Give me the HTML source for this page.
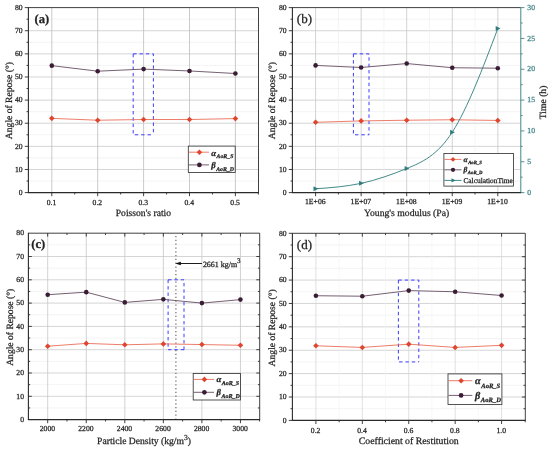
<!DOCTYPE html>
<html lang="en"><head><meta charset="utf-8"><title>Angle of Repose sensitivity</title>
<style>html,body{margin:0;padding:0;background:#fff}svg{display:block;filter:blur(0.35px)}</style></head>
<body>
<svg width="550" height="449" viewBox="0 0 550 449" text-rendering="geometricPrecision" font-family="'Liberation Serif', serif">
<style>text{stroke:#2a2a2a;stroke-width:0.26px;paint-order:stroke}</style>
<rect width="550" height="449" fill="#fff"/>
<line x1="28.4" y1="181.04" x2="258.5" y2="181.04" stroke="#ececec" stroke-width="0.6" />
<line x1="28.4" y1="157.91" x2="258.5" y2="157.91" stroke="#ececec" stroke-width="0.6" />
<line x1="28.4" y1="134.79" x2="258.5" y2="134.79" stroke="#ececec" stroke-width="0.6" />
<line x1="28.4" y1="111.66" x2="258.5" y2="111.66" stroke="#ececec" stroke-width="0.6" />
<line x1="28.4" y1="88.54" x2="258.5" y2="88.54" stroke="#ececec" stroke-width="0.6" />
<line x1="28.4" y1="65.41" x2="258.5" y2="65.41" stroke="#ececec" stroke-width="0.6" />
<line x1="28.4" y1="42.29" x2="258.5" y2="42.29" stroke="#ececec" stroke-width="0.6" />
<line x1="28.4" y1="19.16" x2="258.5" y2="19.16" stroke="#ececec" stroke-width="0.6" />
<line x1="28.4" y1="169.47" x2="258.5" y2="169.47" stroke="#cdcdcd" stroke-width="0.85" />
<line x1="28.4" y1="146.35" x2="258.5" y2="146.35" stroke="#cdcdcd" stroke-width="0.85" />
<line x1="28.4" y1="123.22" x2="258.5" y2="123.22" stroke="#cdcdcd" stroke-width="0.85" />
<line x1="28.4" y1="100.1" x2="258.5" y2="100.1" stroke="#cdcdcd" stroke-width="0.85" />
<line x1="28.4" y1="76.97" x2="258.5" y2="76.97" stroke="#cdcdcd" stroke-width="0.85" />
<line x1="28.4" y1="53.85" x2="258.5" y2="53.85" stroke="#cdcdcd" stroke-width="0.85" />
<line x1="28.4" y1="30.72" x2="258.5" y2="30.72" stroke="#cdcdcd" stroke-width="0.85" />
<line x1="51.8" y1="7.6" x2="51.8" y2="192.6" stroke="#bcbcbc" stroke-width="0.8" />
<line x1="97.7" y1="7.6" x2="97.7" y2="192.6" stroke="#bcbcbc" stroke-width="0.8" />
<line x1="143.6" y1="7.6" x2="143.6" y2="192.6" stroke="#bcbcbc" stroke-width="0.8" />
<line x1="189.5" y1="7.6" x2="189.5" y2="192.6" stroke="#bcbcbc" stroke-width="0.8" />
<line x1="235.4" y1="7.6" x2="235.4" y2="192.6" stroke="#bcbcbc" stroke-width="0.8" />
<path d="M133.2 53.85H153.4V134.79M133.2 53.85V134.79H153.4" fill="none" stroke="#3c3cff" stroke-width="1" stroke-dasharray="3.4 2.95"/>
<polyline points="51.8,65.64 97.7,71.19 143.6,69.11 189.5,70.96 235.4,73.51" fill="none" stroke="#5c4357" stroke-width="0.85"/>
<circle cx="51.8" cy="65.64" r="2.3" fill="#3a1c36"/>
<circle cx="97.7" cy="71.19" r="2.3" fill="#3a1c36"/>
<circle cx="143.6" cy="69.11" r="2.3" fill="#3a1c36"/>
<circle cx="189.5" cy="70.96" r="2.3" fill="#3a1c36"/>
<circle cx="235.4" cy="73.51" r="2.3" fill="#3a1c36"/>
<polyline points="51.8,118.37 97.7,120.22 143.6,119.52 189.5,119.52 235.4,118.6" fill="none" stroke="#e8654f" stroke-width="0.85"/>
<path d="M49 118.37L51.8 115.57L54.6 118.37L51.8 121.17Z" fill="#de4630"/>
<path d="M94.9 120.22L97.7 117.42L100.5 120.22L97.7 123.02Z" fill="#de4630"/>
<path d="M140.8 119.52L143.6 116.72L146.4 119.52L143.6 122.32Z" fill="#de4630"/>
<path d="M186.7 119.52L189.5 116.72L192.3 119.52L189.5 122.32Z" fill="#de4630"/>
<path d="M232.6 118.6L235.4 115.8L238.2 118.6L235.4 121.4Z" fill="#de4630"/>
<line x1="28.4" y1="7.6" x2="258.5" y2="7.6" stroke="#2a2a2a" stroke-width="0.9" />
<line x1="258.5" y1="7.6" x2="258.5" y2="192.6" stroke="#2a2a2a" stroke-width="0.9" />
<line x1="28.4" y1="7.2" x2="28.4" y2="193.1" stroke="#2a2a2a" stroke-width="1.1" />
<line x1="27.9" y1="192.6" x2="258.9" y2="192.6" stroke="#2a2a2a" stroke-width="1.1" />
<line x1="24.8" y1="192.6" x2="28.4" y2="192.6" stroke="#2a2a2a" stroke-width="0.9" />
<text x="22.6" y="194.85" font-size="7.7" text-anchor="end" fill="#262626" >0</text>
<line x1="24.8" y1="169.47" x2="28.4" y2="169.47" stroke="#2a2a2a" stroke-width="0.9" />
<text x="22.6" y="171.72" font-size="7.7" text-anchor="end" fill="#262626" >10</text>
<line x1="24.8" y1="146.35" x2="28.4" y2="146.35" stroke="#2a2a2a" stroke-width="0.9" />
<text x="22.6" y="148.6" font-size="7.7" text-anchor="end" fill="#262626" >20</text>
<line x1="24.8" y1="123.22" x2="28.4" y2="123.22" stroke="#2a2a2a" stroke-width="0.9" />
<text x="22.6" y="125.47" font-size="7.7" text-anchor="end" fill="#262626" >30</text>
<line x1="24.8" y1="100.1" x2="28.4" y2="100.1" stroke="#2a2a2a" stroke-width="0.9" />
<text x="22.6" y="102.35" font-size="7.7" text-anchor="end" fill="#262626" >40</text>
<line x1="24.8" y1="76.97" x2="28.4" y2="76.97" stroke="#2a2a2a" stroke-width="0.9" />
<text x="22.6" y="79.22" font-size="7.7" text-anchor="end" fill="#262626" >50</text>
<line x1="24.8" y1="53.85" x2="28.4" y2="53.85" stroke="#2a2a2a" stroke-width="0.9" />
<text x="22.6" y="56.1" font-size="7.7" text-anchor="end" fill="#262626" >60</text>
<line x1="24.8" y1="30.72" x2="28.4" y2="30.72" stroke="#2a2a2a" stroke-width="0.9" />
<text x="22.6" y="32.97" font-size="7.7" text-anchor="end" fill="#262626" >70</text>
<line x1="24.8" y1="7.6" x2="28.4" y2="7.6" stroke="#2a2a2a" stroke-width="0.9" />
<text x="22.6" y="9.85" font-size="7.7" text-anchor="end" fill="#262626" >80</text>
<line x1="26.5" y1="181.04" x2="28.4" y2="181.04" stroke="#2a2a2a" stroke-width="0.9" />
<line x1="26.5" y1="157.91" x2="28.4" y2="157.91" stroke="#2a2a2a" stroke-width="0.9" />
<line x1="26.5" y1="134.79" x2="28.4" y2="134.79" stroke="#2a2a2a" stroke-width="0.9" />
<line x1="26.5" y1="111.66" x2="28.4" y2="111.66" stroke="#2a2a2a" stroke-width="0.9" />
<line x1="26.5" y1="88.54" x2="28.4" y2="88.54" stroke="#2a2a2a" stroke-width="0.9" />
<line x1="26.5" y1="65.41" x2="28.4" y2="65.41" stroke="#2a2a2a" stroke-width="0.9" />
<line x1="26.5" y1="42.29" x2="28.4" y2="42.29" stroke="#2a2a2a" stroke-width="0.9" />
<line x1="26.5" y1="19.16" x2="28.4" y2="19.16" stroke="#2a2a2a" stroke-width="0.9" />
<line x1="51.8" y1="192.6" x2="51.8" y2="196.2" stroke="#2a2a2a" stroke-width="0.9" />
<text x="51.5" y="204.6" font-size="7.7" text-anchor="middle" fill="#262626" >0.1</text>
<line x1="97.7" y1="192.6" x2="97.7" y2="196.2" stroke="#2a2a2a" stroke-width="0.9" />
<text x="97.4" y="204.6" font-size="7.7" text-anchor="middle" fill="#262626" >0.2</text>
<line x1="143.6" y1="192.6" x2="143.6" y2="196.2" stroke="#2a2a2a" stroke-width="0.9" />
<text x="143.3" y="204.6" font-size="7.7" text-anchor="middle" fill="#262626" >0.3</text>
<line x1="189.5" y1="192.6" x2="189.5" y2="196.2" stroke="#2a2a2a" stroke-width="0.9" />
<text x="189.2" y="204.6" font-size="7.7" text-anchor="middle" fill="#262626" >0.4</text>
<line x1="235.4" y1="192.6" x2="235.4" y2="196.2" stroke="#2a2a2a" stroke-width="0.9" />
<text x="235.1" y="204.6" font-size="7.7" text-anchor="middle" fill="#262626" >0.5</text>
<line x1="74.75" y1="192.6" x2="74.75" y2="194.5" stroke="#2a2a2a" stroke-width="0.9" />
<line x1="120.65" y1="192.6" x2="120.65" y2="194.5" stroke="#2a2a2a" stroke-width="0.9" />
<line x1="166.55" y1="192.6" x2="166.55" y2="194.5" stroke="#2a2a2a" stroke-width="0.9" />
<line x1="212.45" y1="192.6" x2="212.45" y2="194.5" stroke="#2a2a2a" stroke-width="0.9" />
<line x1="258.4" y1="192.6" x2="258.4" y2="194.5" stroke="#2a2a2a" stroke-width="0.9" />
<text x="143.45" y="215.9" font-size="9.6" text-anchor="middle" fill="#262626" >Poisson's ratio</text>
<text transform="translate(11.5 100.6) rotate(-90)" font-size="9.6" text-anchor="middle" fill="#262626">Angle of Repose (°)</text>
<text x="34.6" y="22.7" font-size="12.6" text-anchor="start" fill="#222" font-weight="bold">(a)</text>
<rect x="188.3" y="146.1" width="46.9" height="26.3" fill="#fff" stroke="#2a2a2a" stroke-width="0.8"/>
<line x1="188.8" y1="152.2" x2="209" y2="152.2" stroke="#e8654f" stroke-width="0.85" />
<path d="M196.6 152.2L199.4 149.4L202.2 152.2L199.4 155Z" fill="#de4630"/>
<line x1="188.8" y1="164.9" x2="209" y2="164.9" stroke="#5c4357" stroke-width="0.85" />
<circle cx="199.4" cy="164.9" r="2.35" fill="#3a1c36"/>
<text x="211.2" y="156" font-size="8.7" font-weight="bold" font-style="italic" fill="#222">α<tspan font-size="5.8" dy="2.1" dx="0.6">AoR_S</tspan></text>
<text x="211.2" y="167.8" font-size="8.7" font-weight="bold" font-style="italic" fill="#222">β<tspan font-size="5.8" dy="2.8" dx="0.6">AoR_D</tspan></text>
<line x1="292.4" y1="181.04" x2="520.8" y2="181.04" stroke="#ececec" stroke-width="0.6" />
<line x1="292.4" y1="157.91" x2="520.8" y2="157.91" stroke="#ececec" stroke-width="0.6" />
<line x1="292.4" y1="134.79" x2="520.8" y2="134.79" stroke="#ececec" stroke-width="0.6" />
<line x1="292.4" y1="111.66" x2="520.8" y2="111.66" stroke="#ececec" stroke-width="0.6" />
<line x1="292.4" y1="88.54" x2="520.8" y2="88.54" stroke="#ececec" stroke-width="0.6" />
<line x1="292.4" y1="65.41" x2="520.8" y2="65.41" stroke="#ececec" stroke-width="0.6" />
<line x1="292.4" y1="42.29" x2="520.8" y2="42.29" stroke="#ececec" stroke-width="0.6" />
<line x1="292.4" y1="19.16" x2="520.8" y2="19.16" stroke="#ececec" stroke-width="0.6" />
<line x1="292.4" y1="169.47" x2="520.8" y2="169.47" stroke="#cdcdcd" stroke-width="0.85" />
<line x1="292.4" y1="146.35" x2="520.8" y2="146.35" stroke="#cdcdcd" stroke-width="0.85" />
<line x1="292.4" y1="123.22" x2="520.8" y2="123.22" stroke="#cdcdcd" stroke-width="0.85" />
<line x1="292.4" y1="100.1" x2="520.8" y2="100.1" stroke="#cdcdcd" stroke-width="0.85" />
<line x1="292.4" y1="76.97" x2="520.8" y2="76.97" stroke="#cdcdcd" stroke-width="0.85" />
<line x1="292.4" y1="53.85" x2="520.8" y2="53.85" stroke="#cdcdcd" stroke-width="0.85" />
<line x1="292.4" y1="30.72" x2="520.8" y2="30.72" stroke="#cdcdcd" stroke-width="0.85" />
<line x1="338.38" y1="7.6" x2="338.38" y2="192.6" stroke="#ececec" stroke-width="0.6" />
<line x1="383.93" y1="7.6" x2="383.93" y2="192.6" stroke="#ececec" stroke-width="0.6" />
<line x1="429.48" y1="7.6" x2="429.48" y2="192.6" stroke="#ececec" stroke-width="0.6" />
<line x1="475.02" y1="7.6" x2="475.02" y2="192.6" stroke="#ececec" stroke-width="0.6" />
<line x1="315.6" y1="7.6" x2="315.6" y2="192.6" stroke="#c6c6c6" stroke-width="0.8" />
<line x1="361.15" y1="7.6" x2="361.15" y2="192.6" stroke="#c6c6c6" stroke-width="0.8" />
<line x1="406.7" y1="7.6" x2="406.7" y2="192.6" stroke="#c6c6c6" stroke-width="0.8" />
<line x1="452.25" y1="7.6" x2="452.25" y2="192.6" stroke="#c6c6c6" stroke-width="0.8" />
<line x1="497.8" y1="7.6" x2="497.8" y2="192.6" stroke="#c6c6c6" stroke-width="0.8" />
<path d="M353.4 53.85H369V134.79M353.4 53.85V134.79H369" fill="none" stroke="#3c3cff" stroke-width="1" stroke-dasharray="3.4 2.95"/>
<polyline points="315.6,65.41 361.15,67.49 406.7,63.56 452.25,67.72 497.8,68.19" fill="none" stroke="#5c4357" stroke-width="0.85"/>
<circle cx="315.6" cy="65.41" r="2.3" fill="#3a1c36"/>
<circle cx="361.15" cy="67.49" r="2.3" fill="#3a1c36"/>
<circle cx="406.7" cy="63.56" r="2.3" fill="#3a1c36"/>
<circle cx="452.25" cy="67.72" r="2.3" fill="#3a1c36"/>
<circle cx="497.8" cy="68.19" r="2.3" fill="#3a1c36"/>
<polyline points="315.6,122.3 361.15,120.91 406.7,120.22 452.25,119.76 497.8,120.45" fill="none" stroke="#e8654f" stroke-width="0.85"/>
<path d="M312.8 122.3L315.6 119.5L318.4 122.3L315.6 125.1Z" fill="#de4630"/>
<path d="M358.35 120.91L361.15 118.11L363.95 120.91L361.15 123.71Z" fill="#de4630"/>
<path d="M403.9 120.22L406.7 117.42L409.5 120.22L406.7 123.02Z" fill="#de4630"/>
<path d="M449.45 119.76L452.25 116.96L455.05 119.76L452.25 122.56Z" fill="#de4630"/>
<path d="M495 120.45L497.8 117.65L500.6 120.45L497.8 123.25Z" fill="#de4630"/>
<path d="M315.6 188.78C330.78 187.69 345.97 186.61 361.15 183.35C376.33 180.09 391.52 174.67 406.7 168.55C421.88 162.43 437.07 155.61 452.25 132.17C467.43 108.72 482.62 68.64 497.8 28.57" fill="none" stroke="#2e7d7e" stroke-width="0.9"/>
<path d="M313.5 186.28L318.3 188.78L313.5 191.28Z" fill="#2e7d7e"/>
<path d="M359.05 180.85L363.85 183.35L359.05 185.85Z" fill="#2e7d7e"/>
<path d="M404.6 166.05L409.4 168.55L404.6 171.05Z" fill="#2e7d7e"/>
<path d="M450.15 129.67L454.95 132.17L450.15 134.67Z" fill="#2e7d7e"/>
<path d="M495.7 26.07L500.5 28.57L495.7 31.07Z" fill="#2e7d7e"/>
<line x1="292.4" y1="7.6" x2="520.8" y2="7.6" stroke="#2a2a2a" stroke-width="0.9" />
<line x1="520.8" y1="7.6" x2="520.8" y2="192.6" stroke="#438688" stroke-width="1" />
<line x1="292.4" y1="7.2" x2="292.4" y2="193.1" stroke="#2a2a2a" stroke-width="1.1" />
<line x1="291.9" y1="192.6" x2="521.2" y2="192.6" stroke="#2a2a2a" stroke-width="1.1" />
<line x1="288.8" y1="192.6" x2="292.4" y2="192.6" stroke="#2a2a2a" stroke-width="0.9" />
<text x="286.6" y="194.85" font-size="7.7" text-anchor="end" fill="#262626" >0</text>
<line x1="288.8" y1="169.47" x2="292.4" y2="169.47" stroke="#2a2a2a" stroke-width="0.9" />
<text x="286.6" y="171.72" font-size="7.7" text-anchor="end" fill="#262626" >10</text>
<line x1="288.8" y1="146.35" x2="292.4" y2="146.35" stroke="#2a2a2a" stroke-width="0.9" />
<text x="286.6" y="148.6" font-size="7.7" text-anchor="end" fill="#262626" >20</text>
<line x1="288.8" y1="123.22" x2="292.4" y2="123.22" stroke="#2a2a2a" stroke-width="0.9" />
<text x="286.6" y="125.47" font-size="7.7" text-anchor="end" fill="#262626" >30</text>
<line x1="288.8" y1="100.1" x2="292.4" y2="100.1" stroke="#2a2a2a" stroke-width="0.9" />
<text x="286.6" y="102.35" font-size="7.7" text-anchor="end" fill="#262626" >40</text>
<line x1="288.8" y1="76.97" x2="292.4" y2="76.97" stroke="#2a2a2a" stroke-width="0.9" />
<text x="286.6" y="79.22" font-size="7.7" text-anchor="end" fill="#262626" >50</text>
<line x1="288.8" y1="53.85" x2="292.4" y2="53.85" stroke="#2a2a2a" stroke-width="0.9" />
<text x="286.6" y="56.1" font-size="7.7" text-anchor="end" fill="#262626" >60</text>
<line x1="288.8" y1="30.72" x2="292.4" y2="30.72" stroke="#2a2a2a" stroke-width="0.9" />
<text x="286.6" y="32.97" font-size="7.7" text-anchor="end" fill="#262626" >70</text>
<line x1="288.8" y1="7.6" x2="292.4" y2="7.6" stroke="#2a2a2a" stroke-width="0.9" />
<text x="286.6" y="9.85" font-size="7.7" text-anchor="end" fill="#262626" >80</text>
<line x1="290.5" y1="181.04" x2="292.4" y2="181.04" stroke="#2a2a2a" stroke-width="0.9" />
<line x1="290.5" y1="157.91" x2="292.4" y2="157.91" stroke="#2a2a2a" stroke-width="0.9" />
<line x1="290.5" y1="134.79" x2="292.4" y2="134.79" stroke="#2a2a2a" stroke-width="0.9" />
<line x1="290.5" y1="111.66" x2="292.4" y2="111.66" stroke="#2a2a2a" stroke-width="0.9" />
<line x1="290.5" y1="88.54" x2="292.4" y2="88.54" stroke="#2a2a2a" stroke-width="0.9" />
<line x1="290.5" y1="65.41" x2="292.4" y2="65.41" stroke="#2a2a2a" stroke-width="0.9" />
<line x1="290.5" y1="42.29" x2="292.4" y2="42.29" stroke="#2a2a2a" stroke-width="0.9" />
<line x1="290.5" y1="19.16" x2="292.4" y2="19.16" stroke="#2a2a2a" stroke-width="0.9" />
<line x1="315.6" y1="192.6" x2="315.6" y2="196.2" stroke="#2a2a2a" stroke-width="0.9" />
<text x="315.3" y="204" font-size="7.7" text-anchor="middle" fill="#262626" >1E+06</text>
<line x1="361.15" y1="192.6" x2="361.15" y2="196.2" stroke="#2a2a2a" stroke-width="0.9" />
<text x="360.85" y="204" font-size="7.7" text-anchor="middle" fill="#262626" >1E+07</text>
<line x1="406.7" y1="192.6" x2="406.7" y2="196.2" stroke="#2a2a2a" stroke-width="0.9" />
<text x="406.4" y="204" font-size="7.7" text-anchor="middle" fill="#262626" >1E+08</text>
<line x1="452.25" y1="192.6" x2="452.25" y2="196.2" stroke="#2a2a2a" stroke-width="0.9" />
<text x="451.95" y="204" font-size="7.7" text-anchor="middle" fill="#262626" >1E+09</text>
<line x1="497.8" y1="192.6" x2="497.8" y2="196.2" stroke="#2a2a2a" stroke-width="0.9" />
<text x="497.5" y="204" font-size="7.7" text-anchor="middle" fill="#262626" >1E+10</text>
<line x1="338.38" y1="192.6" x2="338.38" y2="194.5" stroke="#2a2a2a" stroke-width="0.9" />
<line x1="383.93" y1="192.6" x2="383.93" y2="194.5" stroke="#2a2a2a" stroke-width="0.9" />
<line x1="429.48" y1="192.6" x2="429.48" y2="194.5" stroke="#2a2a2a" stroke-width="0.9" />
<line x1="475.02" y1="192.6" x2="475.02" y2="194.5" stroke="#2a2a2a" stroke-width="0.9" />
<text x="406.6" y="216.3" font-size="9.7" text-anchor="middle" fill="#262626" >Young's modulus (Pa)</text>
<text transform="translate(274.5 100.6) rotate(-90)" font-size="9.6" text-anchor="middle" fill="#262626">Angle of Repose (°)</text>
<text x="296.8" y="22.8" font-size="13" text-anchor="start" fill="#222" >(b)</text>
<rect x="443.9" y="153.4" width="69.7" height="32.7" fill="#fff" stroke="#2a2a2a" stroke-width="0.8"/>
<line x1="444.4" y1="159.4" x2="461.5" y2="159.4" stroke="#e8654f" stroke-width="0.85" />
<path d="M450.6 159.4L453 157L455.4 159.4L453 161.8Z" fill="#de4630"/>
<line x1="444.4" y1="169.8" x2="461.5" y2="169.8" stroke="#5c4357" stroke-width="0.85" />
<circle cx="453" cy="169.8" r="2.15" fill="#3a1c36"/>
<text x="463.4" y="161.8" font-size="7.5" font-weight="bold" font-style="italic" fill="#222">α<tspan font-size="4.8" dy="1.8" dx="0.6">AoR_S</tspan></text>
<text x="463.4" y="172.2" font-size="7.5" font-weight="bold" font-style="italic" fill="#222">β<tspan font-size="4.8" dy="1.8" dx="0.6">AoR_D</tspan></text>
<line x1="444.4" y1="180.4" x2="461.5" y2="180.4" stroke="#2e7d7e" stroke-width="0.9" />
<path d="M451.5 178.3L455.6 180.4L451.5 182.5Z" fill="#2e7d7e"/>
<text x="463.4" y="182.9" font-size="7.4" text-anchor="start" fill="#222" >CalculationTime</text>
<line x1="28.4" y1="407.95" x2="259.7" y2="407.95" stroke="#ececec" stroke-width="0.6" />
<line x1="28.4" y1="384.65" x2="259.7" y2="384.65" stroke="#ececec" stroke-width="0.6" />
<line x1="28.4" y1="361.35" x2="259.7" y2="361.35" stroke="#ececec" stroke-width="0.6" />
<line x1="28.4" y1="338.05" x2="259.7" y2="338.05" stroke="#ececec" stroke-width="0.6" />
<line x1="28.4" y1="314.75" x2="259.7" y2="314.75" stroke="#ececec" stroke-width="0.6" />
<line x1="28.4" y1="291.45" x2="259.7" y2="291.45" stroke="#ececec" stroke-width="0.6" />
<line x1="28.4" y1="268.15" x2="259.7" y2="268.15" stroke="#ececec" stroke-width="0.6" />
<line x1="28.4" y1="244.85" x2="259.7" y2="244.85" stroke="#ececec" stroke-width="0.6" />
<line x1="28.4" y1="396.3" x2="259.7" y2="396.3" stroke="#cdcdcd" stroke-width="0.85" />
<line x1="28.4" y1="373" x2="259.7" y2="373" stroke="#cdcdcd" stroke-width="0.85" />
<line x1="28.4" y1="349.7" x2="259.7" y2="349.7" stroke="#cdcdcd" stroke-width="0.85" />
<line x1="28.4" y1="326.4" x2="259.7" y2="326.4" stroke="#cdcdcd" stroke-width="0.85" />
<line x1="28.4" y1="303.1" x2="259.7" y2="303.1" stroke="#cdcdcd" stroke-width="0.85" />
<line x1="28.4" y1="279.8" x2="259.7" y2="279.8" stroke="#cdcdcd" stroke-width="0.85" />
<line x1="28.4" y1="256.5" x2="259.7" y2="256.5" stroke="#cdcdcd" stroke-width="0.85" />
<line x1="47.7" y1="233.2" x2="47.7" y2="419.6" stroke="#c6c6c6" stroke-width="0.8" />
<line x1="86.25" y1="233.2" x2="86.25" y2="419.6" stroke="#c6c6c6" stroke-width="0.8" />
<line x1="124.8" y1="233.2" x2="124.8" y2="419.6" stroke="#c6c6c6" stroke-width="0.8" />
<line x1="163.35" y1="233.2" x2="163.35" y2="419.6" stroke="#c6c6c6" stroke-width="0.8" />
<line x1="201.9" y1="233.2" x2="201.9" y2="419.6" stroke="#c6c6c6" stroke-width="0.8" />
<line x1="240.45" y1="233.2" x2="240.45" y2="419.6" stroke="#c6c6c6" stroke-width="0.8" />
<line x1="175.9" y1="236" x2="175.9" y2="419.6" stroke="#6a6a6a" stroke-width="1.2" stroke-dasharray="1.25 2.55"/>
<path d="M168.1 279.8H184V349.7M168.1 279.8V349.7H184" fill="none" stroke="#3c3cff" stroke-width="1" stroke-dasharray="3.4 2.95"/>
<polyline points="47.7,294.71 86.25,292.15 124.8,302.4 163.35,299.37 201.9,303.1 240.45,299.61" fill="none" stroke="#5c4357" stroke-width="0.85"/>
<circle cx="47.7" cy="294.71" r="2.3" fill="#3a1c36"/>
<circle cx="86.25" cy="292.15" r="2.3" fill="#3a1c36"/>
<circle cx="124.8" cy="302.4" r="2.3" fill="#3a1c36"/>
<circle cx="163.35" cy="299.37" r="2.3" fill="#3a1c36"/>
<circle cx="201.9" cy="303.1" r="2.3" fill="#3a1c36"/>
<circle cx="240.45" cy="299.61" r="2.3" fill="#3a1c36"/>
<polyline points="47.7,346.21 86.25,343.41 124.8,344.81 163.35,343.88 201.9,344.57 240.45,345.27" fill="none" stroke="#e8654f" stroke-width="0.85"/>
<path d="M44.9 346.21L47.7 343.41L50.5 346.21L47.7 349.01Z" fill="#de4630"/>
<path d="M83.45 343.41L86.25 340.61L89.05 343.41L86.25 346.21Z" fill="#de4630"/>
<path d="M122 344.81L124.8 342.01L127.6 344.81L124.8 347.61Z" fill="#de4630"/>
<path d="M160.55 343.88L163.35 341.07L166.15 343.88L163.35 346.68Z" fill="#de4630"/>
<path d="M199.1 344.57L201.9 341.77L204.7 344.57L201.9 347.37Z" fill="#de4630"/>
<path d="M237.65 345.27L240.45 342.47L243.25 345.27L240.45 348.07Z" fill="#de4630"/>
<line x1="179" y1="263.5" x2="202" y2="263.5" stroke="#111" stroke-width="0.95" />
<path d="M175.2 263.5L180.9 261.8L180.9 265.2Z" fill="#111"/>
<text x="202.9" y="266.7" font-size="7.95" fill="#222">2661 kg/m<tspan font-size="7" dy="-3.9">3</tspan></text>
<line x1="28.4" y1="233.2" x2="259.7" y2="233.2" stroke="#2a2a2a" stroke-width="0.9" />
<line x1="259.7" y1="233.2" x2="259.7" y2="419.6" stroke="#2a2a2a" stroke-width="0.9" />
<line x1="28.4" y1="232.8" x2="28.4" y2="420.1" stroke="#2a2a2a" stroke-width="1.1" />
<line x1="27.9" y1="419.6" x2="260.1" y2="419.6" stroke="#2a2a2a" stroke-width="1.1" />
<text x="24" y="421.85" font-size="7.7" text-anchor="end" fill="#262626" >0</text>
<line x1="28.4" y1="396.3" x2="31.8" y2="396.3" stroke="#2a2a2a" stroke-width="0.9" />
<text x="24" y="398.55" font-size="7.7" text-anchor="end" fill="#262626" >10</text>
<line x1="28.4" y1="373" x2="31.8" y2="373" stroke="#2a2a2a" stroke-width="0.9" />
<text x="24" y="375.25" font-size="7.7" text-anchor="end" fill="#262626" >20</text>
<line x1="28.4" y1="349.7" x2="31.8" y2="349.7" stroke="#2a2a2a" stroke-width="0.9" />
<text x="24" y="351.95" font-size="7.7" text-anchor="end" fill="#262626" >30</text>
<line x1="28.4" y1="326.4" x2="31.8" y2="326.4" stroke="#2a2a2a" stroke-width="0.9" />
<text x="24" y="328.65" font-size="7.7" text-anchor="end" fill="#262626" >40</text>
<line x1="28.4" y1="303.1" x2="31.8" y2="303.1" stroke="#2a2a2a" stroke-width="0.9" />
<text x="24" y="305.35" font-size="7.7" text-anchor="end" fill="#262626" >50</text>
<line x1="28.4" y1="279.8" x2="31.8" y2="279.8" stroke="#2a2a2a" stroke-width="0.9" />
<text x="24" y="282.05" font-size="7.7" text-anchor="end" fill="#262626" >60</text>
<line x1="28.4" y1="256.5" x2="31.8" y2="256.5" stroke="#2a2a2a" stroke-width="0.9" />
<text x="24" y="258.75" font-size="7.7" text-anchor="end" fill="#262626" >70</text>
<text x="24" y="235.45" font-size="7.7" text-anchor="end" fill="#262626" >80</text>
<line x1="28.4" y1="407.95" x2="30.2" y2="407.95" stroke="#2a2a2a" stroke-width="0.9" />
<line x1="28.4" y1="384.65" x2="30.2" y2="384.65" stroke="#2a2a2a" stroke-width="0.9" />
<line x1="28.4" y1="361.35" x2="30.2" y2="361.35" stroke="#2a2a2a" stroke-width="0.9" />
<line x1="28.4" y1="338.05" x2="30.2" y2="338.05" stroke="#2a2a2a" stroke-width="0.9" />
<line x1="28.4" y1="314.75" x2="30.2" y2="314.75" stroke="#2a2a2a" stroke-width="0.9" />
<line x1="28.4" y1="291.45" x2="30.2" y2="291.45" stroke="#2a2a2a" stroke-width="0.9" />
<line x1="28.4" y1="268.15" x2="30.2" y2="268.15" stroke="#2a2a2a" stroke-width="0.9" />
<line x1="28.4" y1="244.85" x2="30.2" y2="244.85" stroke="#2a2a2a" stroke-width="0.9" />
<line x1="47.7" y1="419.6" x2="47.7" y2="423.2" stroke="#2a2a2a" stroke-width="0.9" />
<text x="47.4" y="431.1" font-size="7.7" text-anchor="middle" fill="#262626" >2000</text>
<line x1="86.25" y1="419.6" x2="86.25" y2="423.2" stroke="#2a2a2a" stroke-width="0.9" />
<text x="85.95" y="431.1" font-size="7.7" text-anchor="middle" fill="#262626" >2200</text>
<line x1="124.8" y1="419.6" x2="124.8" y2="423.2" stroke="#2a2a2a" stroke-width="0.9" />
<text x="124.5" y="431.1" font-size="7.7" text-anchor="middle" fill="#262626" >2400</text>
<line x1="163.35" y1="419.6" x2="163.35" y2="423.2" stroke="#2a2a2a" stroke-width="0.9" />
<text x="163.05" y="431.1" font-size="7.7" text-anchor="middle" fill="#262626" >2600</text>
<line x1="201.9" y1="419.6" x2="201.9" y2="423.2" stroke="#2a2a2a" stroke-width="0.9" />
<text x="201.6" y="431.1" font-size="7.7" text-anchor="middle" fill="#262626" >2800</text>
<line x1="240.45" y1="419.6" x2="240.45" y2="423.2" stroke="#2a2a2a" stroke-width="0.9" />
<text x="240.15" y="431.1" font-size="7.7" text-anchor="middle" fill="#262626" >3000</text>
<line x1="66.97" y1="419.6" x2="66.97" y2="421.5" stroke="#2a2a2a" stroke-width="0.9" />
<line x1="105.53" y1="419.6" x2="105.53" y2="421.5" stroke="#2a2a2a" stroke-width="0.9" />
<line x1="144.07" y1="419.6" x2="144.07" y2="421.5" stroke="#2a2a2a" stroke-width="0.9" />
<line x1="182.62" y1="419.6" x2="182.62" y2="421.5" stroke="#2a2a2a" stroke-width="0.9" />
<line x1="221.17" y1="419.6" x2="221.17" y2="421.5" stroke="#2a2a2a" stroke-width="0.9" />
<line x1="259.6" y1="419.6" x2="259.6" y2="421.5" stroke="#2a2a2a" stroke-width="0.9" />
<line x1="47.7" y1="233.2" x2="47.7" y2="236.6" stroke="#2a2a2a" stroke-width="0.9" />
<line x1="86.25" y1="233.2" x2="86.25" y2="236.6" stroke="#2a2a2a" stroke-width="0.9" />
<line x1="124.8" y1="233.2" x2="124.8" y2="236.6" stroke="#2a2a2a" stroke-width="0.9" />
<line x1="163.35" y1="233.2" x2="163.35" y2="236.6" stroke="#2a2a2a" stroke-width="0.9" />
<line x1="201.9" y1="233.2" x2="201.9" y2="236.6" stroke="#2a2a2a" stroke-width="0.9" />
<line x1="240.45" y1="233.2" x2="240.45" y2="236.6" stroke="#2a2a2a" stroke-width="0.9" />
<line x1="66.97" y1="233.2" x2="66.97" y2="235" stroke="#2a2a2a" stroke-width="0.9" />
<line x1="105.53" y1="233.2" x2="105.53" y2="235" stroke="#2a2a2a" stroke-width="0.9" />
<line x1="144.07" y1="233.2" x2="144.07" y2="235" stroke="#2a2a2a" stroke-width="0.9" />
<line x1="182.62" y1="233.2" x2="182.62" y2="235" stroke="#2a2a2a" stroke-width="0.9" />
<line x1="221.17" y1="233.2" x2="221.17" y2="235" stroke="#2a2a2a" stroke-width="0.9" />
<line x1="256.3" y1="396.3" x2="259.7" y2="396.3" stroke="#2a2a2a" stroke-width="0.9" />
<line x1="256.3" y1="373" x2="259.7" y2="373" stroke="#2a2a2a" stroke-width="0.9" />
<line x1="256.3" y1="349.7" x2="259.7" y2="349.7" stroke="#2a2a2a" stroke-width="0.9" />
<line x1="256.3" y1="326.4" x2="259.7" y2="326.4" stroke="#2a2a2a" stroke-width="0.9" />
<line x1="256.3" y1="303.1" x2="259.7" y2="303.1" stroke="#2a2a2a" stroke-width="0.9" />
<line x1="256.3" y1="279.8" x2="259.7" y2="279.8" stroke="#2a2a2a" stroke-width="0.9" />
<line x1="256.3" y1="256.5" x2="259.7" y2="256.5" stroke="#2a2a2a" stroke-width="0.9" />
<line x1="257.9" y1="407.95" x2="259.7" y2="407.95" stroke="#2a2a2a" stroke-width="0.9" />
<line x1="257.9" y1="384.65" x2="259.7" y2="384.65" stroke="#2a2a2a" stroke-width="0.9" />
<line x1="257.9" y1="361.35" x2="259.7" y2="361.35" stroke="#2a2a2a" stroke-width="0.9" />
<line x1="257.9" y1="338.05" x2="259.7" y2="338.05" stroke="#2a2a2a" stroke-width="0.9" />
<line x1="257.9" y1="314.75" x2="259.7" y2="314.75" stroke="#2a2a2a" stroke-width="0.9" />
<line x1="257.9" y1="291.45" x2="259.7" y2="291.45" stroke="#2a2a2a" stroke-width="0.9" />
<line x1="257.9" y1="268.15" x2="259.7" y2="268.15" stroke="#2a2a2a" stroke-width="0.9" />
<line x1="257.9" y1="244.85" x2="259.7" y2="244.85" stroke="#2a2a2a" stroke-width="0.9" />
<text x="144.05" y="443.8" font-size="9.6" text-anchor="middle" fill="#262626" >Particle Density (kg/m<tspan font-size="7.6" dy="-4">3</tspan><tspan dy="4">)</tspan></text>
<text transform="translate(13 327.3) rotate(-90)" font-size="9.6" text-anchor="middle" fill="#262626">Angle of Repose (°)</text>
<text x="31.3" y="248.3" font-size="12.6" text-anchor="start" fill="#222" font-weight="bold">(c)</text>
<rect x="193.2" y="373.4" width="47.3" height="26.6" fill="#fff" stroke="#2a2a2a" stroke-width="0.8"/>
<line x1="193.7" y1="379.4" x2="214" y2="379.4" stroke="#e8654f" stroke-width="0.85" />
<path d="M201.6 379.4L204.4 376.6L207.2 379.4L204.4 382.2Z" fill="#de4630"/>
<line x1="193.7" y1="392.3" x2="214" y2="392.3" stroke="#5c4357" stroke-width="0.85" />
<circle cx="204.4" cy="392.3" r="2.35" fill="#3a1c36"/>
<text x="216.4" y="382.4" font-size="8.7" font-weight="bold" font-style="italic" fill="#222">α<tspan font-size="6.0" dy="2.7" dx="0.6">AoR_S</tspan></text>
<text x="216.4" y="395" font-size="8.7" font-weight="bold" font-style="italic" fill="#222">β<tspan font-size="6.0" dy="2.9" dx="0.6">AoR_D</tspan></text>
<line x1="292.4" y1="408.71" x2="525.3" y2="408.71" stroke="#ececec" stroke-width="0.6" />
<line x1="292.4" y1="385.32" x2="525.3" y2="385.32" stroke="#ececec" stroke-width="0.6" />
<line x1="292.4" y1="361.93" x2="525.3" y2="361.93" stroke="#ececec" stroke-width="0.6" />
<line x1="292.4" y1="338.54" x2="525.3" y2="338.54" stroke="#ececec" stroke-width="0.6" />
<line x1="292.4" y1="315.16" x2="525.3" y2="315.16" stroke="#ececec" stroke-width="0.6" />
<line x1="292.4" y1="291.77" x2="525.3" y2="291.77" stroke="#ececec" stroke-width="0.6" />
<line x1="292.4" y1="268.38" x2="525.3" y2="268.38" stroke="#ececec" stroke-width="0.6" />
<line x1="292.4" y1="244.99" x2="525.3" y2="244.99" stroke="#ececec" stroke-width="0.6" />
<line x1="292.4" y1="397.01" x2="525.3" y2="397.01" stroke="#cdcdcd" stroke-width="0.85" />
<line x1="292.4" y1="373.62" x2="525.3" y2="373.62" stroke="#cdcdcd" stroke-width="0.85" />
<line x1="292.4" y1="350.24" x2="525.3" y2="350.24" stroke="#cdcdcd" stroke-width="0.85" />
<line x1="292.4" y1="326.85" x2="525.3" y2="326.85" stroke="#cdcdcd" stroke-width="0.85" />
<line x1="292.4" y1="303.46" x2="525.3" y2="303.46" stroke="#cdcdcd" stroke-width="0.85" />
<line x1="292.4" y1="280.07" x2="525.3" y2="280.07" stroke="#cdcdcd" stroke-width="0.85" />
<line x1="292.4" y1="256.69" x2="525.3" y2="256.69" stroke="#cdcdcd" stroke-width="0.85" />
<line x1="339.11" y1="233.3" x2="339.11" y2="420.4" stroke="#f4f4f4" stroke-width="0.6" />
<line x1="385.53" y1="233.3" x2="385.53" y2="420.4" stroke="#f4f4f4" stroke-width="0.6" />
<line x1="431.95" y1="233.3" x2="431.95" y2="420.4" stroke="#f4f4f4" stroke-width="0.6" />
<line x1="478.37" y1="233.3" x2="478.37" y2="420.4" stroke="#f4f4f4" stroke-width="0.6" />
<line x1="315.9" y1="233.3" x2="315.9" y2="420.4" stroke="#d8d8d8" stroke-width="0.8" />
<line x1="362.32" y1="233.3" x2="362.32" y2="420.4" stroke="#d8d8d8" stroke-width="0.8" />
<line x1="408.74" y1="233.3" x2="408.74" y2="420.4" stroke="#d8d8d8" stroke-width="0.8" />
<line x1="455.16" y1="233.3" x2="455.16" y2="420.4" stroke="#d8d8d8" stroke-width="0.8" />
<line x1="501.58" y1="233.3" x2="501.58" y2="420.4" stroke="#d8d8d8" stroke-width="0.8" />
<path d="M398.4 280.07H418.8V361.93M398.4 280.07V361.93H418.8" fill="none" stroke="#3c3cff" stroke-width="1" stroke-dasharray="3.4 2.95"/>
<polyline points="315.9,295.74 362.32,296.21 408.74,290.6 455.16,291.77 501.58,295.51" fill="none" stroke="#5c4357" stroke-width="0.85"/>
<circle cx="315.9" cy="295.74" r="2.3" fill="#3a1c36"/>
<circle cx="362.32" cy="296.21" r="2.3" fill="#3a1c36"/>
<circle cx="408.74" cy="290.6" r="2.3" fill="#3a1c36"/>
<circle cx="455.16" cy="291.77" r="2.3" fill="#3a1c36"/>
<circle cx="501.58" cy="295.51" r="2.3" fill="#3a1c36"/>
<polyline points="315.9,345.79 362.32,347.43 408.74,344.16 455.16,347.43 501.58,345.33" fill="none" stroke="#e8654f" stroke-width="0.85"/>
<path d="M313.1 345.79L315.9 342.99L318.7 345.79L315.9 348.59Z" fill="#de4630"/>
<path d="M359.52 347.43L362.32 344.63L365.12 347.43L362.32 350.23Z" fill="#de4630"/>
<path d="M405.94 344.16L408.74 341.36L411.54 344.16L408.74 346.96Z" fill="#de4630"/>
<path d="M452.36 347.43L455.16 344.63L457.96 347.43L455.16 350.23Z" fill="#de4630"/>
<path d="M498.78 345.33L501.58 342.53L504.38 345.33L501.58 348.13Z" fill="#de4630"/>
<line x1="292.4" y1="233.3" x2="525.3" y2="233.3" stroke="#2a2a2a" stroke-width="0.9" />
<line x1="525.3" y1="233.3" x2="525.3" y2="420.4" stroke="#2a2a2a" stroke-width="0.9" />
<line x1="292.4" y1="232.9" x2="292.4" y2="420.9" stroke="#2a2a2a" stroke-width="1.1" />
<line x1="291.9" y1="420.4" x2="525.7" y2="420.4" stroke="#2a2a2a" stroke-width="1.1" />
<line x1="288.8" y1="420.4" x2="292.4" y2="420.4" stroke="#2a2a2a" stroke-width="0.9" />
<text x="286.6" y="422.65" font-size="7.7" text-anchor="end" fill="#262626" >0</text>
<line x1="288.8" y1="397.01" x2="292.4" y2="397.01" stroke="#2a2a2a" stroke-width="0.9" />
<text x="286.6" y="399.26" font-size="7.7" text-anchor="end" fill="#262626" >10</text>
<line x1="288.8" y1="373.62" x2="292.4" y2="373.62" stroke="#2a2a2a" stroke-width="0.9" />
<text x="286.6" y="375.88" font-size="7.7" text-anchor="end" fill="#262626" >20</text>
<line x1="288.8" y1="350.24" x2="292.4" y2="350.24" stroke="#2a2a2a" stroke-width="0.9" />
<text x="286.6" y="352.49" font-size="7.7" text-anchor="end" fill="#262626" >30</text>
<line x1="288.8" y1="326.85" x2="292.4" y2="326.85" stroke="#2a2a2a" stroke-width="0.9" />
<text x="286.6" y="329.1" font-size="7.7" text-anchor="end" fill="#262626" >40</text>
<line x1="288.8" y1="303.46" x2="292.4" y2="303.46" stroke="#2a2a2a" stroke-width="0.9" />
<text x="286.6" y="305.71" font-size="7.7" text-anchor="end" fill="#262626" >50</text>
<line x1="288.8" y1="280.07" x2="292.4" y2="280.07" stroke="#2a2a2a" stroke-width="0.9" />
<text x="286.6" y="282.32" font-size="7.7" text-anchor="end" fill="#262626" >60</text>
<line x1="288.8" y1="256.69" x2="292.4" y2="256.69" stroke="#2a2a2a" stroke-width="0.9" />
<text x="286.6" y="258.94" font-size="7.7" text-anchor="end" fill="#262626" >70</text>
<line x1="288.8" y1="233.3" x2="292.4" y2="233.3" stroke="#2a2a2a" stroke-width="0.9" />
<text x="286.6" y="235.55" font-size="7.7" text-anchor="end" fill="#262626" >80</text>
<line x1="290.5" y1="408.71" x2="292.4" y2="408.71" stroke="#2a2a2a" stroke-width="0.9" />
<line x1="290.5" y1="385.32" x2="292.4" y2="385.32" stroke="#2a2a2a" stroke-width="0.9" />
<line x1="290.5" y1="361.93" x2="292.4" y2="361.93" stroke="#2a2a2a" stroke-width="0.9" />
<line x1="290.5" y1="338.54" x2="292.4" y2="338.54" stroke="#2a2a2a" stroke-width="0.9" />
<line x1="290.5" y1="315.16" x2="292.4" y2="315.16" stroke="#2a2a2a" stroke-width="0.9" />
<line x1="290.5" y1="291.77" x2="292.4" y2="291.77" stroke="#2a2a2a" stroke-width="0.9" />
<line x1="290.5" y1="268.38" x2="292.4" y2="268.38" stroke="#2a2a2a" stroke-width="0.9" />
<line x1="290.5" y1="244.99" x2="292.4" y2="244.99" stroke="#2a2a2a" stroke-width="0.9" />
<line x1="315.9" y1="420.4" x2="315.9" y2="424" stroke="#2a2a2a" stroke-width="0.9" />
<text x="315.6" y="433" font-size="7.7" text-anchor="middle" fill="#262626" >0.2</text>
<line x1="362.32" y1="420.4" x2="362.32" y2="424" stroke="#2a2a2a" stroke-width="0.9" />
<text x="362.02" y="433" font-size="7.7" text-anchor="middle" fill="#262626" >0.4</text>
<line x1="408.74" y1="420.4" x2="408.74" y2="424" stroke="#2a2a2a" stroke-width="0.9" />
<text x="408.44" y="433" font-size="7.7" text-anchor="middle" fill="#262626" >0.6</text>
<line x1="455.16" y1="420.4" x2="455.16" y2="424" stroke="#2a2a2a" stroke-width="0.9" />
<text x="454.86" y="433" font-size="7.7" text-anchor="middle" fill="#262626" >0.8</text>
<line x1="501.58" y1="420.4" x2="501.58" y2="424" stroke="#2a2a2a" stroke-width="0.9" />
<text x="501.28" y="433" font-size="7.7" text-anchor="middle" fill="#262626" >1.0</text>
<line x1="339.11" y1="420.4" x2="339.11" y2="422.3" stroke="#2a2a2a" stroke-width="0.9" />
<line x1="385.53" y1="420.4" x2="385.53" y2="422.3" stroke="#2a2a2a" stroke-width="0.9" />
<line x1="431.95" y1="420.4" x2="431.95" y2="422.3" stroke="#2a2a2a" stroke-width="0.9" />
<line x1="478.37" y1="420.4" x2="478.37" y2="422.3" stroke="#2a2a2a" stroke-width="0.9" />
<line x1="525.2" y1="420.4" x2="525.2" y2="422.3" stroke="#2a2a2a" stroke-width="0.9" />
<line x1="315.9" y1="233.3" x2="315.9" y2="236.7" stroke="#2a2a2a" stroke-width="0.9" />
<line x1="362.32" y1="233.3" x2="362.32" y2="236.7" stroke="#2a2a2a" stroke-width="0.9" />
<line x1="408.74" y1="233.3" x2="408.74" y2="236.7" stroke="#2a2a2a" stroke-width="0.9" />
<line x1="455.16" y1="233.3" x2="455.16" y2="236.7" stroke="#2a2a2a" stroke-width="0.9" />
<line x1="501.58" y1="233.3" x2="501.58" y2="236.7" stroke="#2a2a2a" stroke-width="0.9" />
<line x1="339.11" y1="233.3" x2="339.11" y2="235.1" stroke="#2a2a2a" stroke-width="0.9" />
<line x1="385.53" y1="233.3" x2="385.53" y2="235.1" stroke="#2a2a2a" stroke-width="0.9" />
<line x1="431.95" y1="233.3" x2="431.95" y2="235.1" stroke="#2a2a2a" stroke-width="0.9" />
<line x1="478.37" y1="233.3" x2="478.37" y2="235.1" stroke="#2a2a2a" stroke-width="0.9" />
<line x1="521.9" y1="397.01" x2="525.3" y2="397.01" stroke="#2a2a2a" stroke-width="0.9" />
<line x1="521.9" y1="373.62" x2="525.3" y2="373.62" stroke="#2a2a2a" stroke-width="0.9" />
<line x1="521.9" y1="350.24" x2="525.3" y2="350.24" stroke="#2a2a2a" stroke-width="0.9" />
<line x1="521.9" y1="326.85" x2="525.3" y2="326.85" stroke="#2a2a2a" stroke-width="0.9" />
<line x1="521.9" y1="303.46" x2="525.3" y2="303.46" stroke="#2a2a2a" stroke-width="0.9" />
<line x1="521.9" y1="280.07" x2="525.3" y2="280.07" stroke="#2a2a2a" stroke-width="0.9" />
<line x1="521.9" y1="256.69" x2="525.3" y2="256.69" stroke="#2a2a2a" stroke-width="0.9" />
<line x1="523.5" y1="408.71" x2="525.3" y2="408.71" stroke="#2a2a2a" stroke-width="0.9" />
<line x1="523.5" y1="385.32" x2="525.3" y2="385.32" stroke="#2a2a2a" stroke-width="0.9" />
<line x1="523.5" y1="361.93" x2="525.3" y2="361.93" stroke="#2a2a2a" stroke-width="0.9" />
<line x1="523.5" y1="338.54" x2="525.3" y2="338.54" stroke="#2a2a2a" stroke-width="0.9" />
<line x1="523.5" y1="315.16" x2="525.3" y2="315.16" stroke="#2a2a2a" stroke-width="0.9" />
<line x1="523.5" y1="291.77" x2="525.3" y2="291.77" stroke="#2a2a2a" stroke-width="0.9" />
<line x1="523.5" y1="268.38" x2="525.3" y2="268.38" stroke="#2a2a2a" stroke-width="0.9" />
<line x1="523.5" y1="244.99" x2="525.3" y2="244.99" stroke="#2a2a2a" stroke-width="0.9" />
<text x="408.75" y="443.8" font-size="9.8" text-anchor="middle" fill="#262626" >Coefficient of Restitution</text>
<text transform="translate(275.2 327.85) rotate(-90)" font-size="9.6" text-anchor="middle" fill="#262626">Angle of Repose (°)</text>
<text x="296.8" y="248.5" font-size="13" text-anchor="start" fill="#222" >(d)</text>
<rect x="448" y="373.9" width="53.9" height="30.6" fill="#fff" stroke="#2a2a2a" stroke-width="0.8"/>
<line x1="448.5" y1="380.7" x2="472.3" y2="380.7" stroke="#e8654f" stroke-width="0.85" />
<path d="M458.3 380.7L461.1 377.9L463.9 380.7L461.1 383.5Z" fill="#de4630"/>
<line x1="448.5" y1="395.4" x2="472.3" y2="395.4" stroke="#5c4357" stroke-width="0.85" />
<circle cx="461.1" cy="395.4" r="2.35" fill="#3a1c36"/>
<text x="475" y="384.3" font-size="10.2" font-weight="bold" font-style="italic" fill="#222">α<tspan font-size="6.6" dy="3.3" dx="0.6">AoR_S</tspan></text>
<text x="475" y="399.1" font-size="10.2" font-weight="bold" font-style="italic" fill="#222">β<tspan font-size="6.6" dy="2.8" dx="0.6">AoR_D</tspan></text>
<line x1="520.8" y1="192.6" x2="524.4" y2="192.6" stroke="#438688" stroke-width="0.9" />
<text x="527.3" y="194.8" font-size="7.7" text-anchor="start" fill="#438688" style="stroke:#438688">0</text>
<line x1="520.8" y1="161.77" x2="524.4" y2="161.77" stroke="#438688" stroke-width="0.9" />
<text x="527.3" y="163.97" font-size="7.7" text-anchor="start" fill="#438688" style="stroke:#438688">5</text>
<line x1="520.8" y1="130.93" x2="524.4" y2="130.93" stroke="#438688" stroke-width="0.9" />
<text x="527.3" y="133.13" font-size="7.7" text-anchor="start" fill="#438688" style="stroke:#438688">10</text>
<line x1="520.8" y1="100.1" x2="524.4" y2="100.1" stroke="#438688" stroke-width="0.9" />
<text x="527.3" y="102.3" font-size="7.7" text-anchor="start" fill="#438688" style="stroke:#438688">15</text>
<line x1="520.8" y1="69.27" x2="524.4" y2="69.27" stroke="#438688" stroke-width="0.9" />
<text x="527.3" y="71.47" font-size="7.7" text-anchor="start" fill="#438688" style="stroke:#438688">20</text>
<line x1="520.8" y1="38.43" x2="524.4" y2="38.43" stroke="#438688" stroke-width="0.9" />
<text x="527.3" y="40.63" font-size="7.7" text-anchor="start" fill="#438688" style="stroke:#438688">25</text>
<line x1="520.8" y1="7.6" x2="524.4" y2="7.6" stroke="#438688" stroke-width="0.9" />
<text x="527.3" y="9.8" font-size="7.7" text-anchor="start" fill="#438688" style="stroke:#438688">30</text>
<line x1="520.8" y1="177.18" x2="522.7" y2="177.18" stroke="#438688" stroke-width="0.9" />
<line x1="520.8" y1="146.35" x2="522.7" y2="146.35" stroke="#438688" stroke-width="0.9" />
<line x1="520.8" y1="115.52" x2="522.7" y2="115.52" stroke="#438688" stroke-width="0.9" />
<line x1="520.8" y1="84.68" x2="522.7" y2="84.68" stroke="#438688" stroke-width="0.9" />
<line x1="520.8" y1="53.85" x2="522.7" y2="53.85" stroke="#438688" stroke-width="0.9" />
<line x1="520.8" y1="23.02" x2="522.7" y2="23.02" stroke="#438688" stroke-width="0.9" />
<text transform="translate(545.7 102.4) rotate(-90)" font-size="9.6" text-anchor="middle" fill="#262626">Time (h)</text>
</svg>
</body></html>
